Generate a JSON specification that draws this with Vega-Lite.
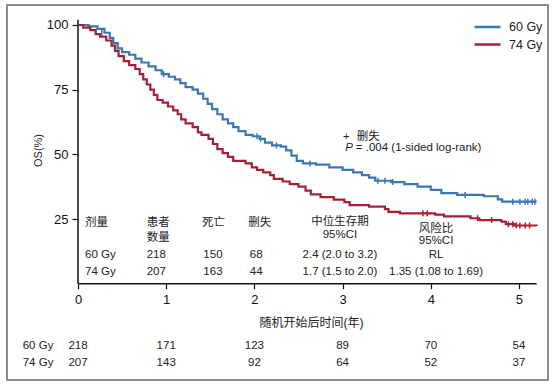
{
  "$schema": "https://vega.github.io/schema/vega-lite/v6.json",
  "width": 541,
  "height": 375,
  "autosize": {"type": "none"},
  "padding": {"left": 7, "top": 5, "right": 5, "bottom": 5},
  "background": "white",
  "config": {
    "view": {"stroke": "#8c8c8c", "strokeWidth": 2},
    "font": "Liberation Sans, Noto Sans CJK SC",
    "text": {"font": "Liberation Sans, Noto Sans CJK SC", "fill": "#222222", "fontSize": 11.5}
  },
  "datasets": {
    "curves": [
      {"g": "60 Gy", "t": 0, "v": 100}, {"g": "60 Gy", "t": 0.12, "v": 99.5}, {"g": "60 Gy", "t": 0.22, "v": 98.5}, {"g": "60 Gy", "t": 0.3, "v": 97}, {"g": "60 Gy", "t": 0.36, "v": 95}, {"g": "60 Gy", "t": 0.4, "v": 93}, {"g": "60 Gy", "t": 0.45, "v": 91}, {"g": "60 Gy", "t": 0.5, "v": 89.5}, {"g": "60 Gy", "t": 0.58, "v": 88.5}, {"g": "60 Gy", "t": 0.65, "v": 87}, {"g": "60 Gy", "t": 0.72, "v": 85.5}, {"g": "60 Gy", "t": 0.8, "v": 84}, {"g": "60 Gy", "t": 0.88, "v": 82.5}, {"g": "60 Gy", "t": 0.95, "v": 81}, {"g": "60 Gy", "t": 1.03, "v": 80}, {"g": "60 Gy", "t": 1.1, "v": 79}, {"g": "60 Gy", "t": 1.16, "v": 77.5}, {"g": "60 Gy", "t": 1.22, "v": 76}, {"g": "60 Gy", "t": 1.3, "v": 75}, {"g": "60 Gy", "t": 1.36, "v": 73.5}, {"g": "60 Gy", "t": 1.42, "v": 71.5}, {"g": "60 Gy", "t": 1.47, "v": 69.5}, {"g": "60 Gy", "t": 1.52, "v": 67.5}, {"g": "60 Gy", "t": 1.58, "v": 65.5}, {"g": "60 Gy", "t": 1.64, "v": 63.5}, {"g": "60 Gy", "t": 1.7, "v": 62}, {"g": "60 Gy", "t": 1.76, "v": 60.5}, {"g": "60 Gy", "t": 1.82, "v": 59}, {"g": "60 Gy", "t": 1.9, "v": 57.5}, {"g": "60 Gy", "t": 1.98, "v": 57}, {"g": "60 Gy", "t": 2.06, "v": 56}, {"g": "60 Gy", "t": 2.12, "v": 54.5}, {"g": "60 Gy", "t": 2.2, "v": 53.5}, {"g": "60 Gy", "t": 2.3, "v": 53}, {"g": "60 Gy", "t": 2.36, "v": 51.5}, {"g": "60 Gy", "t": 2.42, "v": 49.5}, {"g": "60 Gy", "t": 2.48, "v": 47.5}, {"g": "60 Gy", "t": 2.55, "v": 46.5}, {"g": "60 Gy", "t": 2.7, "v": 46}, {"g": "60 Gy", "t": 2.85, "v": 45}, {"g": "60 Gy", "t": 3.0, "v": 44}, {"g": "60 Gy", "t": 3.12, "v": 43}, {"g": "60 Gy", "t": 3.22, "v": 42}, {"g": "60 Gy", "t": 3.3, "v": 41}, {"g": "60 Gy", "t": 3.37, "v": 39.8}, {"g": "60 Gy", "t": 3.55, "v": 39.3}, {"g": "60 Gy", "t": 3.7, "v": 38.5}, {"g": "60 Gy", "t": 3.85, "v": 37.5}, {"g": "60 Gy", "t": 4.0, "v": 36.3}, {"g": "60 Gy", "t": 4.12, "v": 35}, {"g": "60 Gy", "t": 4.3, "v": 34.3}, {"g": "60 Gy", "t": 4.6, "v": 33.8}, {"g": "60 Gy", "t": 4.76, "v": 32.6}, {"g": "60 Gy", "t": 4.81, "v": 31.7}, {"g": "60 Gy", "t": 5.2, "v": 31.7},
      {"g": "74 Gy", "t": 0, "v": 100}, {"g": "74 Gy", "t": 0.06, "v": 99}, {"g": "74 Gy", "t": 0.14, "v": 98}, {"g": "74 Gy", "t": 0.2, "v": 96.5}, {"g": "74 Gy", "t": 0.25, "v": 95.5}, {"g": "74 Gy", "t": 0.32, "v": 94}, {"g": "74 Gy", "t": 0.38, "v": 92}, {"g": "74 Gy", "t": 0.42, "v": 90}, {"g": "74 Gy", "t": 0.46, "v": 88}, {"g": "74 Gy", "t": 0.52, "v": 86}, {"g": "74 Gy", "t": 0.58, "v": 84.5}, {"g": "74 Gy", "t": 0.65, "v": 83}, {"g": "74 Gy", "t": 0.7, "v": 81}, {"g": "74 Gy", "t": 0.74, "v": 79}, {"g": "74 Gy", "t": 0.78, "v": 77}, {"g": "74 Gy", "t": 0.82, "v": 75}, {"g": "74 Gy", "t": 0.86, "v": 73}, {"g": "74 Gy", "t": 0.9, "v": 71}, {"g": "74 Gy", "t": 0.96, "v": 70}, {"g": "74 Gy", "t": 1.02, "v": 68.5}, {"g": "74 Gy", "t": 1.08, "v": 67}, {"g": "74 Gy", "t": 1.13, "v": 65.5}, {"g": "74 Gy", "t": 1.17, "v": 63.5}, {"g": "74 Gy", "t": 1.22, "v": 62}, {"g": "74 Gy", "t": 1.3, "v": 60.5}, {"g": "74 Gy", "t": 1.36, "v": 58.5}, {"g": "74 Gy", "t": 1.4, "v": 57.5}, {"g": "74 Gy", "t": 1.48, "v": 56}, {"g": "74 Gy", "t": 1.53, "v": 54}, {"g": "74 Gy", "t": 1.58, "v": 52}, {"g": "74 Gy", "t": 1.64, "v": 50.5}, {"g": "74 Gy", "t": 1.7, "v": 49}, {"g": "74 Gy", "t": 1.76, "v": 47.5}, {"g": "74 Gy", "t": 1.9, "v": 46.5}, {"g": "74 Gy", "t": 1.97, "v": 45}, {"g": "74 Gy", "t": 2.03, "v": 44}, {"g": "74 Gy", "t": 2.1, "v": 43}, {"g": "74 Gy", "t": 2.18, "v": 42}, {"g": "74 Gy", "t": 2.22, "v": 40.5}, {"g": "74 Gy", "t": 2.32, "v": 39.5}, {"g": "74 Gy", "t": 2.4, "v": 38.5}, {"g": "74 Gy", "t": 2.5, "v": 37.5}, {"g": "74 Gy", "t": 2.58, "v": 36}, {"g": "74 Gy", "t": 2.64, "v": 34.5}, {"g": "74 Gy", "t": 2.75, "v": 33.5}, {"g": "74 Gy", "t": 2.9, "v": 32.5}, {"g": "74 Gy", "t": 3.02, "v": 31.5}, {"g": "74 Gy", "t": 3.08, "v": 30.4}, {"g": "74 Gy", "t": 3.3, "v": 29.8}, {"g": "74 Gy", "t": 3.48, "v": 28.8}, {"g": "74 Gy", "t": 3.52, "v": 27.8}, {"g": "74 Gy", "t": 3.65, "v": 27.2}, {"g": "74 Gy", "t": 4.05, "v": 26.7}, {"g": "74 Gy", "t": 4.15, "v": 26.0}, {"g": "74 Gy", "t": 4.45, "v": 25.3}, {"g": "74 Gy", "t": 4.55, "v": 24.6}, {"g": "74 Gy", "t": 4.8, "v": 24.0}, {"g": "74 Gy", "t": 4.85, "v": 23.0}, {"g": "74 Gy", "t": 4.95, "v": 22.5}, {"g": "74 Gy", "t": 5.2, "v": 22.3}
    ],
    "censor": [
      {"g": "60 Gy", "t": 0.27, "v": 97}, {"g": "60 Gy", "t": 0.97, "v": 81}, {"g": "60 Gy", "t": 2.03, "v": 57}, {"g": "60 Gy", "t": 2.07, "v": 56}, {"g": "60 Gy", "t": 2.25, "v": 53.5}, {"g": "60 Gy", "t": 2.63, "v": 46.5}, {"g": "60 Gy", "t": 3.4, "v": 39.8}, {"g": "60 Gy", "t": 3.48, "v": 39.8}, {"g": "60 Gy", "t": 3.57, "v": 39.3}, {"g": "60 Gy", "t": 4.39, "v": 34.3}, {"g": "60 Gy", "t": 4.93, "v": 31.7}, {"g": "60 Gy", "t": 5.01, "v": 31.7}, {"g": "60 Gy", "t": 5.07, "v": 31.7}, {"g": "60 Gy", "t": 5.1, "v": 31.7}, {"g": "60 Gy", "t": 5.15, "v": 31.7}, {"g": "60 Gy", "t": 5.18, "v": 31.7},
      {"g": "74 Gy", "t": 3.91, "v": 27.2}, {"g": "74 Gy", "t": 3.96, "v": 27.2}, {"g": "74 Gy", "t": 4.53, "v": 25.3}, {"g": "74 Gy", "t": 4.69, "v": 24.6}, {"g": "74 Gy", "t": 4.88, "v": 23.0}, {"g": "74 Gy", "t": 4.93, "v": 23.0}, {"g": "74 Gy", "t": 4.97, "v": 22.5}, {"g": "74 Gy", "t": 5.01, "v": 22.5}, {"g": "74 Gy", "t": 5.07, "v": 22.5}, {"g": "74 Gy", "t": 5.12, "v": 22.5}
    ],
    "risk": [
      {"g": "60 Gy", "t": 0, "n": 218}, {"g": "60 Gy", "t": 1, "n": 171}, {"g": "60 Gy", "t": 2, "n": 123}, {"g": "60 Gy", "t": 3, "n": 89}, {"g": "60 Gy", "t": 4, "n": 70}, {"g": "60 Gy", "t": 5, "n": 54},
      {"g": "74 Gy", "t": 0, "n": 207}, {"g": "74 Gy", "t": 1, "n": 143}, {"g": "74 Gy", "t": 2, "n": 92}, {"g": "74 Gy", "t": 3, "n": 64}, {"g": "74 Gy", "t": 4, "n": 52}, {"g": "74 Gy", "t": 5, "n": 37}
    ],
    "inset": [
      {"dose": "60 Gy", "patients": 218, "deaths": 150, "censored": 68, "median": "2.4 (2.0 to 3.2)", "hr": "RL"},
      {"dose": "74 Gy", "patients": 207, "deaths": 163, "censored": 44, "median": "1.7 (1.5 to 2.0)", "hr": "1.35 (1.08 to 1.69)"}
    ],
    "one": [{}]
  },
  "layer": [
    {
      "data": {"name": "one"},
      "mark": {"type": "rule", "color": "#111111", "strokeWidth": 1.5},
      "encoding": {"x": {"datum": 0}, "y": {"datum": 0}, "y2": {"datum": 102}}
    },
    {
      "data": {"name": "one"},
      "mark": {"type": "rule", "color": "#111111", "strokeWidth": 1.5},
      "encoding": {"x": {"datum": 0}, "x2": {"datum": 5.2}, "y": {"datum": 0}}
    },
    {
      "data": {"name": "curves"},
      "mark": {"type": "line", "interpolate": "step-after", "strokeWidth": 2.2},
      "encoding": {
        "x": {
          "field": "t", "type": "quantitative",
          "scale": {"domain": [-0.805, 5.329], "nice": false, "zero": false},
          "axis": {
            "orient": "bottom", "offset": -96.3, "domain": false, "grid": false,
            "values": [0, 1, 2, 3, 4, 5], "format": "d",
            "tickSize": 5, "tickColor": "#111111", "tickWidth": 1.2,
            "labelFontSize": 13, "labelColor": "#111111", "labelPadding": 5, "labelFont": "Liberation Sans",
            "title": "随机开始后时间(年)", "titleFontSize": 12, "titleFontWeight": "normal", "titleColor": "#222222",
            "titleX": 304, "titleY": 39, "titleBaseline": "middle", "titleAlign": "center"
          }
        },
        "y": {
          "field": "v", "type": "quantitative",
          "scale": {"domain": [-37.22, 107.73], "nice": false, "zero": false},
          "axis": {
            "orient": "left", "offset": -71, "domain": false, "grid": false,
            "values": [25, 50, 75, 100],
            "tickSize": 6, "tickColor": "#111111", "tickWidth": 1.2,
            "labelFontSize": 13, "labelColor": "#111111", "labelPadding": 4, "labelFont": "Liberation Sans",
            "title": "OS(%)", "titleFontSize": 11, "titleFontWeight": "normal", "titleColor": "#222222",
            "titleX": -35, "titleY": 145, "titleAngle": -90, "titleBaseline": "bottom", "titleAlign": "center"
          }
        },
        "color": {
          "field": "g", "type": "nominal",
          "scale": {"domain": ["60 Gy", "74 Gy"], "range": ["#3a77b3", "#a51f37"]},
          "legend": {
            "title": null, "orient": "none", "legendX": 474, "legendY": 15.5, "padding": 0,
            "symbolType": "M-2.6,0L2.6,0", "symbolSize": 100, "symbolStrokeWidth": 2.5,
            "labelFontSize": 12.5, "labelColor": "#222222", "labelFont": "Liberation Sans",
            "rowPadding": 4.5, "labelOffset": 15
          }
        }
      }
    },
    {
      "data": {"name": "censor"},
      "mark": {"type": "point", "shape": "M0,-1L0,1", "size": 36, "filled": false, "strokeWidth": 1.5, "opacity": 1},
      "encoding": {
        "x": {"field": "t", "type": "quantitative"},
        "y": {"field": "v", "type": "quantitative"},
        "color": {"field": "g", "type": "nominal"}
      }
    },
    {
      "data": {"name": "risk"},
      "transform": [{"filter": "datum.g == '60 Gy'"}],
      "mark": {"type": "text", "align": "center", "baseline": "middle", "fontSize": 11.5},
      "encoding": {"x": {"field": "t", "type": "quantitative"}, "y": {"datum": -24.1}, "text": {"field": "n"}}
    },
    {
      "data": {"name": "risk"},
      "transform": [{"filter": "datum.g == '74 Gy'"}],
      "mark": {"type": "text", "align": "center", "baseline": "middle", "fontSize": 11.5},
      "encoding": {"x": {"field": "t", "type": "quantitative"}, "y": {"datum": -30.8}, "text": {"field": "n"}}
    },
    {
      "data": {"name": "one"},
      "mark": {"type": "text", "align": "left", "baseline": "middle", "fontSize": 11.5},
      "encoding": {"x": {"datum": -0.627}, "y": {"datum": -24.1}, "text": {"value": "60 Gy"}}
    },
    {
      "data": {"name": "one"},
      "mark": {"type": "text", "align": "left", "baseline": "middle", "fontSize": 11.5},
      "encoding": {"x": {"datum": -0.627}, "y": {"datum": -30.8}, "text": {"value": "74 Gy"}}
    },
    {
      "data": {"name": "one"},
      "mark": {"type": "text", "align": "left", "baseline": "middle"},
      "encoding": {"x": {"datum": 0.08}, "y": {"datum": 23.4}, "text": {"value": "剂量"}}
    },
    {
      "data": {"name": "one"},
      "mark": {"type": "text", "align": "left", "baseline": "middle"},
      "encoding": {"x": {"datum": 0.779}, "y": {"datum": 23.4}, "text": {"value": "患者"}}
    },
    {
      "data": {"name": "one"},
      "mark": {"type": "text", "align": "left", "baseline": "middle"},
      "encoding": {"x": {"datum": 0.779}, "y": {"datum": 17.8}, "text": {"value": "数量"}}
    },
    {
      "data": {"name": "one"},
      "mark": {"type": "text", "align": "center", "baseline": "middle"},
      "encoding": {"x": {"datum": 1.536}, "y": {"datum": 23.4}, "text": {"value": "死亡"}}
    },
    {
      "data": {"name": "one"},
      "mark": {"type": "text", "align": "center", "baseline": "middle"},
      "encoding": {"x": {"datum": 2.06}, "y": {"datum": 23.4}, "text": {"value": "删失"}}
    },
    {
      "data": {"name": "one"},
      "mark": {"type": "text", "align": "center", "baseline": "middle"},
      "encoding": {"x": {"datum": 2.97}, "y": {"datum": 23.9}, "text": {"value": "中位生存期"}}
    },
    {
      "data": {"name": "one"},
      "mark": {"type": "text", "align": "center", "baseline": "middle"},
      "encoding": {"x": {"datum": 2.97}, "y": {"datum": 18.7}, "text": {"value": "95%CI"}}
    },
    {
      "data": {"name": "one"},
      "mark": {"type": "text", "align": "center", "baseline": "middle"},
      "encoding": {"x": {"datum": 4.06}, "y": {"datum": 21.0}, "text": {"value": "风险比"}}
    },
    {
      "data": {"name": "one"},
      "mark": {"type": "text", "align": "center", "baseline": "middle"},
      "encoding": {"x": {"datum": 4.06}, "y": {"datum": 16.6}, "text": {"value": "95%CI"}}
    },
    {
      "data": {"name": "inset"},
      "transform": [{"filter": "datum.dose == '60 Gy'"}],
      "layer": [
        {"mark": {"type": "text", "align": "left", "baseline": "middle"}, "encoding": {"x": {"datum": 0.08}, "y": {"datum": 11.1}, "text": {"field": "dose"}}},
        {"mark": {"type": "text", "align": "left", "baseline": "middle"}, "encoding": {"x": {"datum": 0.779}, "y": {"datum": 11.1}, "text": {"field": "patients"}}},
        {"mark": {"type": "text", "align": "center", "baseline": "middle"}, "encoding": {"x": {"datum": 1.53}, "y": {"datum": 11.1}, "text": {"field": "deaths"}}},
        {"mark": {"type": "text", "align": "center", "baseline": "middle"}, "encoding": {"x": {"datum": 2.02}, "y": {"datum": 11.1}, "text": {"field": "censored"}}},
        {"mark": {"type": "text", "align": "center", "baseline": "middle"}, "encoding": {"x": {"datum": 2.97}, "y": {"datum": 11.1}, "text": {"field": "median"}}},
        {"mark": {"type": "text", "align": "center", "baseline": "middle"}, "encoding": {"x": {"datum": 4.06}, "y": {"datum": 11.1}, "text": {"field": "hr"}}}
      ]
    },
    {
      "data": {"name": "inset"},
      "transform": [{"filter": "datum.dose == '74 Gy'"}],
      "layer": [
        {"mark": {"type": "text", "align": "left", "baseline": "middle"}, "encoding": {"x": {"datum": 0.08}, "y": {"datum": 4.6}, "text": {"field": "dose"}}},
        {"mark": {"type": "text", "align": "left", "baseline": "middle"}, "encoding": {"x": {"datum": 0.779}, "y": {"datum": 4.6}, "text": {"field": "patients"}}},
        {"mark": {"type": "text", "align": "center", "baseline": "middle"}, "encoding": {"x": {"datum": 1.53}, "y": {"datum": 4.6}, "text": {"field": "deaths"}}},
        {"mark": {"type": "text", "align": "center", "baseline": "middle"}, "encoding": {"x": {"datum": 2.02}, "y": {"datum": 4.6}, "text": {"field": "censored"}}},
        {"mark": {"type": "text", "align": "center", "baseline": "middle"}, "encoding": {"x": {"datum": 2.97}, "y": {"datum": 4.6}, "text": {"field": "median"}}},
        {"mark": {"type": "text", "align": "center", "baseline": "middle"}, "encoding": {"x": {"datum": 4.06}, "y": {"datum": 4.6}, "text": {"field": "hr"}}}
      ]
    },
    {
      "data": {"name": "one"},
      "mark": {"type": "text", "align": "center", "baseline": "middle", "fontSize": 11},
      "encoding": {"x": {"datum": 3.04}, "y": {"datum": 56.7}, "text": {"value": "+"}}
    },
    {
      "data": {"name": "one"},
      "mark": {"type": "text", "align": "left", "baseline": "middle", "fontSize": 11.5},
      "encoding": {"x": {"datum": 3.16}, "y": {"datum": 56.7}, "text": {"value": "删失"}}
    },
    {
      "data": {"name": "one"},
      "mark": {"type": "text", "align": "left", "baseline": "middle", "fontSize": 11.5, "fontStyle": "italic"},
      "encoding": {"x": {"datum": 3.03}, "y": {"datum": 52.5}, "text": {"value": "P"}}
    },
    {
      "data": {"name": "one"},
      "mark": {"type": "text", "align": "left", "baseline": "middle", "fontSize": 11.5},
      "encoding": {"x": {"datum": 3.15}, "y": {"datum": 52.5}, "text": {"value": "= .004 (1-sided log-rank)"}}
    }
  ]
}
